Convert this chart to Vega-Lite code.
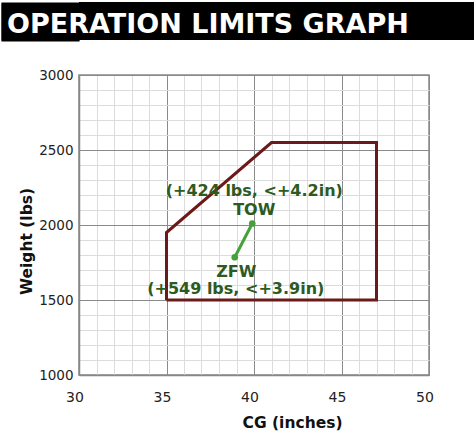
{
  "$schema": "https://vega.github.io/schema/vega-lite/v6.json",
  "background": "white",
  "padding": {"top": 2, "left": 0, "right": 0, "bottom": 0},
  "spacing": 26,
  "datasets": {
    "envelope": [
      {"cg": 35, "weight": 1500, "o": 1},
      {"cg": 35, "weight": 1950, "o": 2},
      {"cg": 41, "weight": 2550, "o": 3},
      {"cg": 47, "weight": 2550, "o": 4},
      {"cg": 47, "weight": 1500, "o": 5},
      {"cg": 35, "weight": 1500, "o": 6}
    ],
    "loads": [
      {"name": "ZFW", "cg": 38.9, "weight": 1785, "detail": "(+549 lbs, <+3.9in)"},
      {"name": "TOW", "cg": 39.9, "weight": 2010, "detail": "(+424 lbs, <+4.2in)"}
    ]
  },
  "vconcat": [
    {
      "width": 395,
      "height": 38,
      "view": {"fill": "black", "stroke": null},
      "title": {
        "text": "OPERATION LIMITS GRAPH",
        "anchor": "start",
        "frame": "group",
        "offset": -37,
        "dx": -72,
        "color": "white",
        "font": "DejaVu Sans",
        "fontSize": 27,
        "fontWeight": "bold"
      },
      "data": {"values": [{}]},
      "mark": {"type": "point", "opacity": 0},
      "encoding": {
        "y": {
          "datum": 19,
          "type": "quantitative",
          "scale": {"domain": [0, 38], "nice": false},
          "axis": {
            "values": [0, 1, 2, 3, 4, 5, 6, 7, 8, 9, 10, 11, 12, 13, 14, 15, 16, 17, 18, 19, 20, 21, 22, 23, 24, 25, 26, 27, 28, 29, 30, 31, 32, 33, 34, 35, 36, 37],
            "labels": false,
            "domain": false,
            "grid": false,
            "title": null,
            "ticks": true,
            "tickSize": 78,
            "tickWidth": 2,
            "tickColor": "black",
            "tickCap": "butt"
          }
        }
      }
    },
    {
      "width": 350,
      "height": 300,
      "view": {"stroke": "#888888", "strokeWidth": 1.5},
      "encoding": {
        "x": {
          "field": "cg",
          "type": "quantitative",
          "scale": {"domain": [30, 50], "nice": false, "zero": false},
          "axis": {
            "title": "CG (inches)",
            "values": [30, 31, 32, 33, 34, 35, 36, 37, 38, 39, 40, 41, 42, 43, 44, 45, 46, 47, 48, 49, 50],
            "labelExpr": "datum.value % 5 === 0 ? datum.label : ''",
            "labelOverlap": false,
            "labelFlush": false,
            "labelOffset": -4.5,
            "labelPadding": 15,
            "labelFontSize": 14,
            "ticks": false,
            "gridColor": {"condition": {"test": "datum.value % 5 === 0", "value": "#8a8a8a"}, "value": "#dcdcdc"},
            "titleX": 213,
            "titleY": 47,
            "titleAlign": "center",
            "titleBaseline": "middle"
          }
        },
        "y": {
          "field": "weight",
          "type": "quantitative",
          "scale": {"domain": [1000, 3000], "nice": false, "zero": false},
          "axis": {
            "title": "Weight (lbs)",
            "format": "d",
            "values": [1000, 1100, 1200, 1300, 1400, 1500, 1600, 1700, 1800, 1900, 2000, 2100, 2200, 2300, 2400, 2500, 2600, 2700, 2800, 2900, 3000],
            "labelExpr": "datum.value % 500 === 0 ? datum.label : ''",
            "labelOverlap": false,
            "ticks": false,
            "labelPadding": 6,
            "labelFontSize": 13.5,
            "gridColor": {"condition": {"test": "datum.value % 500 === 0", "value": "#8a8a8a"}, "value": "#dcdcdc"},
            "titleX": -53,
            "titleY": 166,
            "titleAlign": "center",
            "titleBaseline": "middle"
          }
        }
      },
      "layer": [
        {
          "data": {"name": "envelope"},
          "mark": {"type": "line", "color": "#6b1a1a", "strokeWidth": 3},
          "encoding": {"order": {"field": "o"}}
        },
        {
          "data": {"name": "loads"},
          "mark": {"type": "line", "color": "#45a23a", "strokeWidth": 3},
          "encoding": {}
        },
        {
          "data": {"name": "loads"},
          "mark": {"type": "circle", "color": "#45a23a", "size": 45, "opacity": 1},
          "encoding": {}
        },
        {
          "data": {"name": "loads"},
          "transform": [{"filter": "datum.name === 'TOW'"}],
          "layer": [
            {
              "mark": {"type": "text", "dx": 2, "dy": -13.5, "fontSize": 16, "fontWeight": "bold", "color": "#2d5a1f"},
              "encoding": {"text": {"field": "name"}}
            },
            {
              "mark": {"type": "text", "dx": 2, "dy": -32.5, "fontSize": 16, "fontWeight": "bold", "color": "#2d5a1f"},
              "encoding": {"text": {"field": "detail"}}
            }
          ]
        },
        {
          "data": {"name": "loads"},
          "transform": [{"filter": "datum.name === 'ZFW'"}],
          "layer": [
            {
              "mark": {"type": "text", "dx": 1.5, "dy": 15, "fontSize": 16, "fontWeight": "bold", "color": "#2d5a1f"},
              "encoding": {"text": {"field": "name"}}
            },
            {
              "mark": {"type": "text", "dx": 1, "dy": 32, "fontSize": 16, "fontWeight": "bold", "color": "#2d5a1f"},
              "encoding": {"text": {"field": "detail"}}
            }
          ]
        }
      ]
    }
  ],
  "config": {
    "font": "DejaVu Sans",
    "axis": {
      "domainColor": "#888888",
      "domainWidth": 1.5,
      "labelColor": "#222222",
      "labelFont": "DejaVu Sans",
      "titleFont": "DejaVu Sans",
      "titleFontSize": 15.5,
      "titleFontWeight": "bold",
      "titleColor": "#111111",
      "gridWidth": 1
    },
    "text": {"font": "DejaVu Sans"}
  }
}
